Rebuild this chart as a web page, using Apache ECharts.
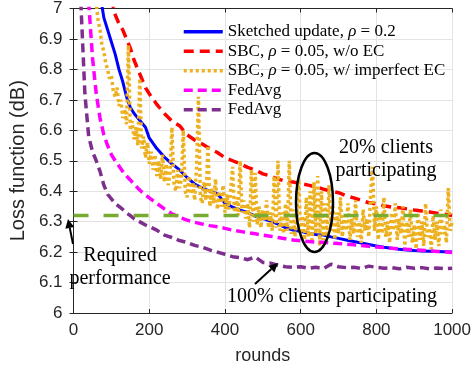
<!DOCTYPE html>
<html>
<head>
<meta charset="utf-8">
<script src="https://cdn.jsdelivr.net/npm/echarts@6/dist/echarts.min.js"></script>
<style>
  html, body { margin: 0; padding: 0; background: #fff; }
  #chart { width: 474px; height: 384px; }
</style>
</head>
<body>
<div id="chart"></div>
<script>
// ---------------- data ----------------
const roundsCoarse = [0,10,20,30,40,50,60,70,80,90,100,110,120,130,140,150,160,170,180,190,200,
  220,240,260,280,300,320,340,360,380,400,420,440,460,480,500,520,540,560,580,600,
  620,640,660,680,700,720,740,760,780,800,820,840,860,880,900,920,940,960,980,1000];

const sketched = [9,8.6,8.2,7.85,7.55,7.35,7.18,7.05,6.97,6.93,6.89,6.85,6.80,6.76,6.71,6.675,6.655,6.64,6.625,6.61,6.575,
  6.54,6.512,6.49,6.47,6.445,6.423,6.41,6.40,6.392,6.36,6.348,6.338,6.33,6.318,6.31,6.302,6.292,6.28,6.272,6.268,
  6.262,6.258,6.256,6.25,6.245,6.24,6.235,6.23,6.225,6.22,6.216,6.213,6.209,6.207,6.205,6.204,6.203,6.202,6.201,6.2];

const sbcNoEc = [9.5,9.2,8.9,8.6,8.3,8.0,7.75,7.5,7.3,7.13,7.03,6.98,6.95,6.93,6.90,6.87,6.83,6.80,6.77,6.74,6.72,
  6.685,6.655,6.63,6.615,6.585,6.568,6.555,6.54,6.527,6.51,6.50,6.49,6.478,6.47,6.457,6.45,6.44,6.433,6.43,6.425,
  6.42,6.414,6.407,6.40,6.395,6.385,6.378,6.37,6.362,6.358,6.352,6.348,6.346,6.342,6.338,6.335,6.332,6.328,6.324,6.32];

const fedAvgPartial = [9.0,8.2,7.6,7.25,7.02,6.84,6.72,6.64,6.585,6.55,6.52,6.5,6.483,6.465,6.45,6.437,6.423,6.41,6.398,6.388,6.378,
  6.36,6.342,6.326,6.314,6.305,6.298,6.292,6.287,6.283,6.278,6.272,6.268,6.264,6.26,6.256,6.252,6.248,6.244,6.24,6.237,
  6.235,6.233,6.232,6.230,6.228,6.226,6.224,6.222,6.219,6.217,6.215,6.213,6.211,6.209,6.208,6.206,6.204,6.202,6.201,6.199];

const fedAvgFull = [9.0,7.6,7.0,6.72,6.58,6.53,6.50,6.465,6.42,6.39,6.375,6.36,6.35,6.34,6.328,6.32,6.31,6.303,6.296,6.289,6.284,
  6.272,6.256,6.248,6.238,6.232,6.222,6.216,6.207,6.200,6.193,6.185,6.182,6.175,6.184,6.166,6.164,6.157,6.152,6.150,6.152,
  6.147,6.150,6.146,6.160,6.152,6.149,6.150,6.146,6.154,6.150,6.147,6.149,6.145,6.150,6.147,6.149,6.145,6.148,6.146,6.147];

const roundsFine = [40,45,50,55,60,65,70,75,80,85,90,95,100,105,110,115,120,125,130,135,
  140,145,150,155,160,165,170,175,180,185,190,195,200,205,210,215,220,225,230,235,
  240,245,250,255,260,265,270,275,280,285,290,295,300,305,310,315,320,325,330,335,
  340,345,350,355,360,365,370,375,380,385,390,395,400,405,410,415,420,425,430,435,
  440,445,450,455,460,465,470,475,480,485,490,495,500,505,510,515,520,525,530,535,
  540,545,550,555,560,565,570,575,580,585,590,595,600,605,610,615,620,625,630,635,
  640,645,650,655,660,665,670,675,680,685,690,695,700,705,710,715,720,725,730,735,
  740,745,750,755,760,765,770,775,780,785,790,795,800,805,810,815,820,825,830,835,
  840,845,850,855,860,865,870,875,880,885,890,895,900,905,910,915,920,925,930,935,
  940,945,950,955,960,965,970,975,980,985,990,995,1000];

const sbcImperfectEc = [7.5,7.35,7.22,7.1,7.02,6.96,6.93,6.88,6.86,6.82,6.80,6.77,6.78,6.73,6.71,6.74,6.68,6.70,6.64,6.67,
  6.62,6.88,6.60,6.63,6.57,6.61,6.55,6.77,6.54,6.58,6.51,6.56,6.49,6.53,6.47,6.52,6.45,6.50,6.44,6.52,
  6.43,6.49,6.42,6.46,6.61,6.43,6.40,6.47,6.41,6.44,6.60,6.40,6.38,6.45,6.39,6.43,6.37,6.48,6.71,6.38,
  6.36,6.43,6.37,6.55,6.35,6.41,6.36,6.44,6.34,6.40,6.35,6.42,6.33,6.39,6.34,6.40,6.48,6.33,6.38,6.32,
  6.50,6.33,6.37,6.31,6.36,6.28,6.47,6.30,6.46,6.29,6.35,6.28,6.34,6.30,6.37,6.28,6.33,6.27,6.45,6.28,
  6.50,6.27,6.33,6.26,6.36,6.27,6.50,6.26,6.34,6.25,6.33,6.44,6.26,6.32,6.24,6.38,6.25,6.40,6.23,6.43,
  6.26,6.45,6.22,6.40,6.24,6.36,6.25,6.42,6.27,6.35,6.24,6.33,6.26,6.38,6.25,6.32,6.27,6.36,6.24,6.31,
  6.26,6.37,6.25,6.30,6.23,6.34,6.27,6.31,6.25,6.40,6.48,6.27,6.35,6.24,6.32,6.26,6.38,6.25,6.30,6.23,
  6.33,6.27,6.36,6.24,6.31,6.26,6.35,6.22,6.30,6.25,6.34,6.23,6.29,6.21,6.33,6.24,6.30,6.22,6.36,6.25,
  6.28,6.21,6.32,6.24,6.30,6.22,6.34,6.26,6.29,6.23,6.41,6.27,6.30];

const requiredRounds = [0, 1000];
const requiredLoss = [6.32, 6.32];

const seriesNames = ['Sketched update, ρ = 0.2', 'SBC, ρ = 0.05, w/o EC', 'SBC, ρ = 0.05, w/ imperfect EC', 'FedAvg', 'FedAvg '];

// ---------------- chart ----------------
const pairs = (xs, ys) => xs.map((x, i) => [x, ys[i]]);
const SANS = '"Liberation Sans", Arial, Helvetica, sans-serif';
const SERIF = '"Liberation Serif", "Times New Roman", Times, serif';
const AX = '#262626';

function arrow(tail, head, len, half) {
  const dx = head[0] - tail[0], dy = head[1] - tail[1];
  const L = Math.sqrt(dx * dx + dy * dy);
  const ux = dx / L, uy = dy / L;
  const bx = head[0] - ux * len, by = head[1] - uy * len;
  return [
    { type: 'line', shape: { x1: tail[0], y1: tail[1], x2: bx, y2: by }, style: { stroke: '#000', lineWidth: 2 }, z: 100 },
    { type: 'polygon', shape: { points: [head, [bx - uy * half, by + ux * half], [bx + uy * half, by - ux * half]] }, style: { fill: '#000' }, z: 100 }
  ];
}
function label(text, x, y) {
  return { type: 'text', z: 100, style: { text, x, y, font: '20px ' + SERIF, fill: '#000',
    align: 'center', verticalAlign: 'middle', textAlign: 'center', textVerticalAlign: 'middle' } };
}

const chart = echarts.init(document.getElementById('chart'), null, { renderer: 'canvas' });
const axisCommon = {
  type: 'value',
  axisLine: { show: true, lineStyle: { color: AX, width: 1 } },
  axisTick: { show: true, inside: true, length: 4, lineStyle: { color: AX } }
};

chart.setOption({
  animation: false,
  backgroundColor: '#fff',
  grid: { left: 53, right: 18, top: 7, bottom: 71, containLabel: false },
  xAxis: [
    Object.assign({}, axisCommon, {
      min: 0, max: 1000, interval: 200, position: 'bottom',
      name: 'rounds', nameLocation: 'middle', nameGap: 34,
      nameTextStyle: { fontFamily: SANS, fontSize: 18, color: AX },
      axisLabel: { fontFamily: SANS, fontSize: 17, color: AX, margin: 9, formatter: v => String(v) },
      splitLine: { show: true, lineStyle: { color: '#e3e3e3', width: 1 } }
    }),
    Object.assign({}, axisCommon, {
      min: 0, max: 1000, interval: 200, position: 'top',
      axisLabel: { show: false }, splitLine: { show: false }
    })
  ],
  yAxis: [
    Object.assign({}, axisCommon, {
      min: 6, max: 7, interval: 0.1, position: 'left',
      name: 'Loss function (dB)', nameLocation: 'middle', nameGap: 35,
      nameTextStyle: { fontFamily: SANS, fontSize: 20, color: AX },
      axisLabel: { fontFamily: SANS, fontSize: 17, color: AX, margin: 11 },
      splitLine: { show: true, lineStyle: { color: '#e3e3e3', width: 1 } }
    }),
    Object.assign({}, axisCommon, {
      min: 6, max: 7, interval: 0.1, position: 'right',
      axisLabel: { show: false }, splitLine: { show: false }
    })
  ],
  legend: {
    data: seriesNames,
    orient: 'vertical',
    left: 182, top: 22,
    itemWidth: 39, itemHeight: 14, itemGap: 0,
    padding: 0,
    itemStyle: { opacity: 0 },
    lineStyle: { width: 3.5 },
    formatter: function (name) {
      const n = name.trim();
      const parts = n.split('ρ');
      if (parts.length === 1) return '{t|' + n + '}';
      return '{t|' + parts[0] + '}{i|ρ}{t|' + parts[1] + '}';
    },
    textStyle: {
      fontFamily: SERIF, fontSize: 17, color: '#000', lineHeight: 19.5,
      rich: {
        t: { fontFamily: SERIF, fontSize: 17, color: '#000', lineHeight: 19.5 },
        i: { fontFamily: SERIF, fontSize: 17, color: '#000', fontStyle: 'italic', lineHeight: 19.5 }
      }
    }
  },
  series: [
    { name: seriesNames[0], type: 'line', data: pairs(roundsCoarse, sketched), showSymbol: false, symbol: 'none',
      lineStyle: { color: '#0000ff', width: 3 }, itemStyle: { color: '#0000ff' }, clip: true },
    { name: seriesNames[1], type: 'line', data: pairs(roundsCoarse, sbcNoEc), showSymbol: false, symbol: 'none',
      lineStyle: { color: '#ff0000', width: 3.5, type: [10, 6] }, itemStyle: { color: '#ff0000' }, clip: true },
    { name: seriesNames[2], type: 'line', data: pairs(roundsFine, sbcImperfectEc), showSymbol: false, symbol: 'none',
      lineStyle: { color: '#edb120', width: 3.5, type: [3, 3] }, itemStyle: { color: '#edb120' }, clip: true },
    { name: seriesNames[3], type: 'line', data: pairs(roundsCoarse, fedAvgPartial), showSymbol: false, symbol: 'none',
      lineStyle: { color: '#ff00ff', width: 3.5, type: [9, 5] }, itemStyle: { color: '#ff00ff' }, clip: true },
    { name: seriesNames[4], type: 'line', data: pairs(roundsCoarse, fedAvgFull), showSymbol: false, symbol: 'none',
      lineStyle: { color: '#7e2f8e', width: 3.5, type: [9, 5] }, itemStyle: { color: '#7e2f8e' }, clip: true },
    { name: 'Required performance', type: 'line', data: pairs(requiredRounds, requiredLoss), showSymbol: false, symbol: 'none',
      lineStyle: { color: '#77ac30', width: 3.5, type: [15, 15] }, itemStyle: { color: '#77ac30' }, clip: true, silent: true }
  ],
  graphic: [
    label('20% clients', 386, 148),
    label('participating', 386, 171),
    label('Required', 120, 256),
    label('performance', 120, 279),
    label('100% clients participating', 332, 297),
    { type: 'ellipse', z: 100, shape: { cx: 314.5, cy: 202.5, rx: 18.5, ry: 49.5 },
      style: { stroke: '#000', lineWidth: 2.5, fill: 'transparent' } }
  ].concat(arrow([73, 244], [68, 219], 9, 4.5)).concat(arrow([255, 284], [278, 263], 9, 4.5))
});
</script>
</body>
</html>
